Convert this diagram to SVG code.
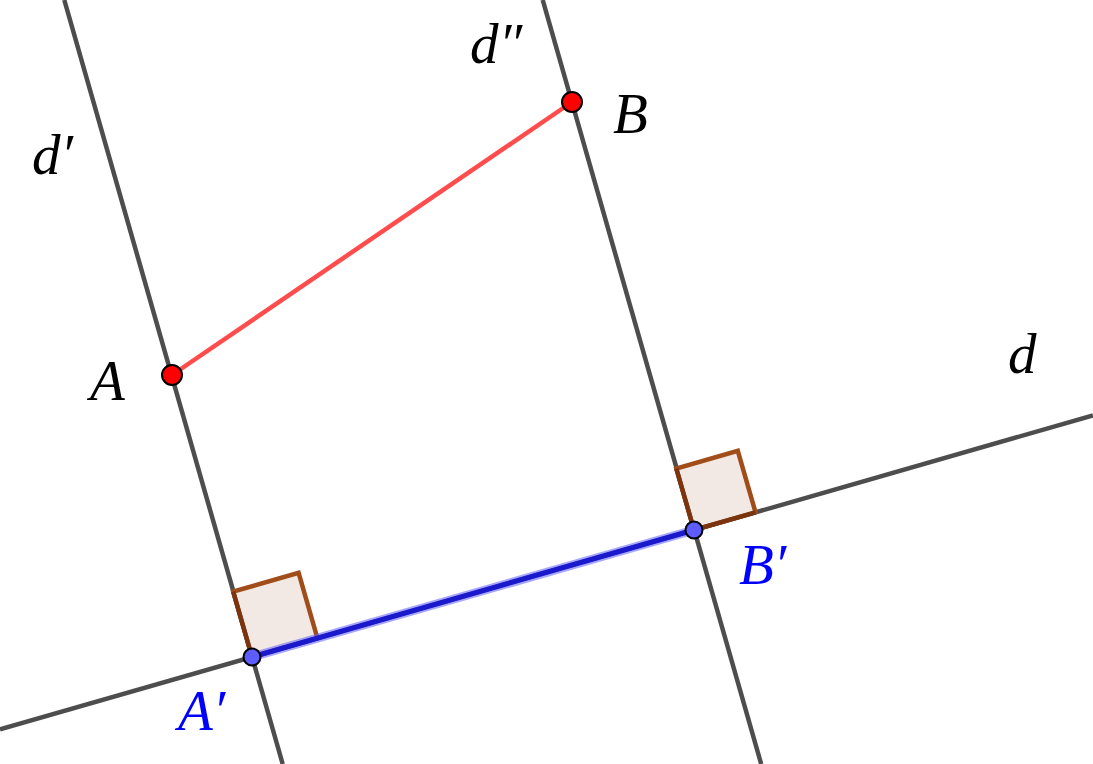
<svg xmlns="http://www.w3.org/2000/svg" width="1093" height="764" viewBox="0 0 1093 764">
<style>
.ln{stroke:#4d4d4d;stroke-width:4.5;fill:none;stroke-linecap:butt}
.sq{fill:#f2e9e4;stroke:#a14d1a;stroke-width:4.5;stroke-linejoin:miter}
.lbl{font-family:"Liberation Serif",serif;font-style:italic;font-size:57px;fill:#000}
.blue{fill:#0000ff}
.pr{fill:#ff0000;stroke:#000;stroke-width:2}
.pb{fill:#5c5cff;stroke:#000;stroke-width:2}
</style>
<rect width="1093" height="764" fill="#fff"/>
<g id="connectors">
<line class="ln" x1="0" y1="729.4" x2="1093" y2="415.4"/>
<line class="ln" x1="64.3" y1="0" x2="282.7" y2="764"/>
<line class="ln" x1="542.7" y1="0" x2="761.2" y2="764"/>
</g>
<g id="right-angle-A">
<polygon class="sq" points="252,657 233.2,591.6 298.6,572.8 317.4,638.2"/>
<polyline points="317.4,638.2 252,657 233.2,591.6" fill="none" stroke="#7a3410" stroke-width="4.5"/>
</g>
<g id="right-angle-B">
<polygon class="sq" points="694,530 676.3,468.5 737.8,450.8 755.5,512.3"/>
<polyline points="755.5,512.3 694,530 676.3,468.5" fill="none" stroke="#7a3410" stroke-width="4.5"/>
</g>
<g id="segment-AB">
<line x1="172" y1="375" x2="572" y2="102" stroke="#ff4d4d" stroke-width="4.5"/>
</g>
<g id="segment-ApBp">
<line x1="252" y1="657" x2="694" y2="530" stroke="#6060ff" stroke-width="9" opacity="0.55"/>
<line x1="252" y1="657" x2="694" y2="530" stroke="#1a1acc" stroke-width="5"/>
</g>
<g id="point-A"><circle class="pr" cx="172" cy="375" r="10"/></g>
<g id="point-B"><circle class="pr" cx="572" cy="102" r="10"/></g>
<g id="point-Ap"><circle class="pb" cx="252" cy="657" r="8.5"/></g>
<g id="point-Bp"><circle class="pb" cx="694" cy="530" r="8.5"/></g>
<g id="labels">
<text class="lbl" x="32" y="174">d′</text>
<text class="lbl" x="470" y="63">d″</text>
<text class="lbl" x="613" y="133">B</text>
<text class="lbl" x="90" y="400">A</text>
<text class="lbl" x="1008" y="373">d</text>
<text class="lbl blue" x="178" y="730">A′</text>
<text class="lbl blue" x="739" y="584">B′</text>
</g>
</svg>
